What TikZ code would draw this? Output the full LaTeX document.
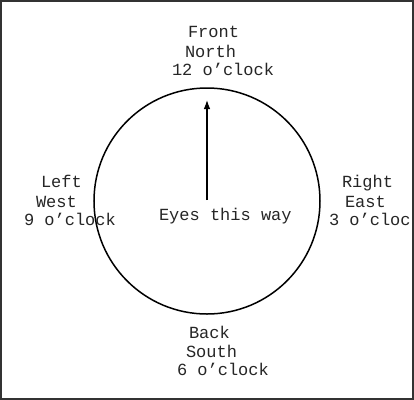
\documentclass[tikz,border=0pt]{standalone}
\usepackage{fontspec}
\setmonofont{Liberation Mono}
\usetikzlibrary{arrows.meta}
\begin{document}
\begin{tikzpicture}[x=1bp,y=-1bp,
  lbl/.style={anchor=base west,inner sep=0pt,outer sep=0pt,text=black!85,
    font=\ttfamily\fontsize{17bp}{19bp}\selectfont},
  ring/.style={circle,draw=black,line width=1.5bp,minimum size=226bp,inner sep=0pt},
  pointer/.style={draw=black,line width=1.1bp,-{Latex[length=9bp,width=6.5bp]}},
  frame/.style={draw=black!80,line width=2bp}]
\useasboundingbox (0,0) rectangle (414,400);
\fill[white] (0,0) rectangle (414,400);
\node[ring] (c) at (207,201) {};
\coordinate (tip) at (207,100);
\draw[pointer] (207,200) -- (tip);
\begin{scope}
\clip (0,0) rectangle (412,400);
\node[lbl] (front) at (188,37) {Front};
\node[lbl] (north) at (185,57) {North};
\node[lbl] (twelve) at (172,75) {12 o’clock};
\node[lbl] (left) at (41,187) {Left};
\node[lbl] (west) at (36,207) {West};
\node[lbl] (nine) at (24,225) {9 o’clock};
\node[lbl] (eyes) at (159,220) {Eyes this way};
\node[lbl] (right) at (342,187) {Right};
\node[lbl] (east) at (345,207) {East};
\node[lbl] (three) at (329,225) {3 o’clock};
\node[lbl] (back) at (189,338) {Back};
\node[lbl] (south) at (186,357) {South};
\node[lbl] (six) at (177,375) {6 o’clock};
\end{scope}
\draw[frame] (1,1) rectangle (413,398.5);
\end{tikzpicture}
\end{document}
